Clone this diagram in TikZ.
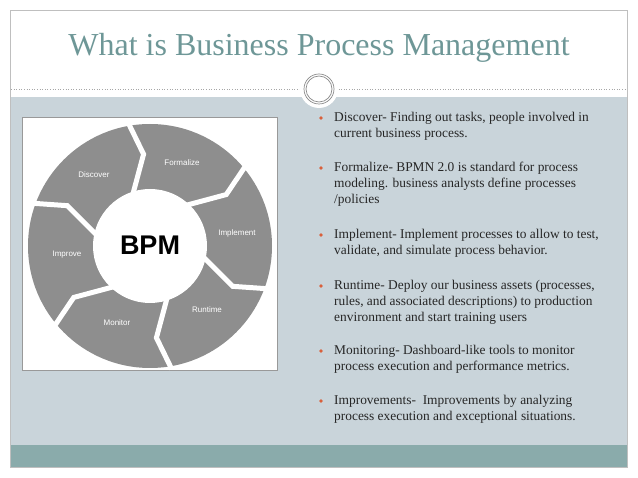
\documentclass[tikz,border=0pt]{standalone}
\usepackage{fontspec}
\setmainfont{Liberation Serif}
\setsansfont{Liberation Sans}
\definecolor{band}{HTML}{C9D4DA}
\definecolor{foot}{HTML}{8AABAB}
\definecolor{titlec}{HTML}{6E9797}
\definecolor{wheel}{HTML}{8E8E8E}
\definecolor{bul}{HTML}{D9603B}
\begin{document}
\begin{tikzpicture}[x=1pt,y=-1pt,
  lab/.style={text=white,font=\sffamily\fontsize{8}{9}\selectfont},
  line/.style={anchor=base west,font=\fontsize{13.4}{15}\selectfont,text=black!85,inner sep=0},
  dot/.style={circle,fill=bul,inner sep=0,minimum size=3.6pt}]
\useasboundingbox (0,0) rectangle (638,478);
\fill[white] (0,0) rectangle (638,478);
\draw[black!25,line width=0.8] (10.5,10.5) rectangle (627.5,467.5);
\fill[band] (11,97) rectangle (627,445);
\fill[foot] (11,445) rectangle (627,467);
\draw[black!35,dotted,line width=0.6] (11,89) -- (627,89);
\node[text=titlec,font=\fontsize{32}{34}\selectfont] (title) at (319,48) {What is Business Process Management};
\node[circle,fill=white,minimum size=38pt,inner sep=0] (c0) at (319,89) {};
\node[circle,draw=black!45,line width=0.7,minimum size=30pt,inner sep=0] (c1) at (319,89) {};
\node[circle,draw=black!45,line width=0.7,minimum size=26pt,inner sep=0] (c2) at (319,89) {};
% image
\node[draw=black!40,fill=white,minimum width=255pt,minimum height=253pt,inner sep=0] (img) at (149.5,243.5) {};
\coordinate (o) at (150,246);
\fill[wheel] (o) circle (122);
\foreach \t in {100,40,-20,-80,-140,160}{
  \draw[white,line width=5pt] (o) ++(-\t:125) coordinate (a) (o) ++(-\t+6:92) coordinate (b) (o) ++(-\t-8:55) coordinate (cc) (a) -- (b) -- (cc);
}
\fill[white] (o) circle (57);
\node[font=\sffamily\bfseries\fontsize{27}{28}\selectfont] (bpm) at (150,245) {BPM};
\node[lab] (l1) at (94,175) {Discover};
\node[lab] (l2) at (182,163) {Formalize};
\node[lab] (l3) at (237,233) {Implement};
\node[lab] (l4) at (207,310) {Runtime};
\node[lab] (l5) at (117,323) {Monitor};
\node[lab] (l6) at (67,255) {Improve};
% bullets
\foreach \y/\txt in {
 122/{Discover- Finding out tasks, people involved in},
 138/{current business process.},
 172/{Formalize- BPMN 2.0 is standard for process},
 188/{modeling. business analysts define processes},
 204/{/policies},
 239/{Implement- Implement processes to allow to test,},
 255/{validate, and simulate process behavior.},
 290/{Runtime- Deploy our business assets (processes,},
 306/{rules, and associated descriptions) to production},
 322/{environment and start training users},
 355/{Monitoring- Dashboard-like tools to monitor},
 371/{process execution and performance metrics.},
 405/{Improvements-\ \ Improvements by analyzing},
 421/{process execution and exceptional situations.}}
 {\node[line] at (334,\y) {\txt};}
\foreach \y in {118,168,235,286,351,401} \node[dot] at (321,\y) {};
\end{tikzpicture}
\end{document}
